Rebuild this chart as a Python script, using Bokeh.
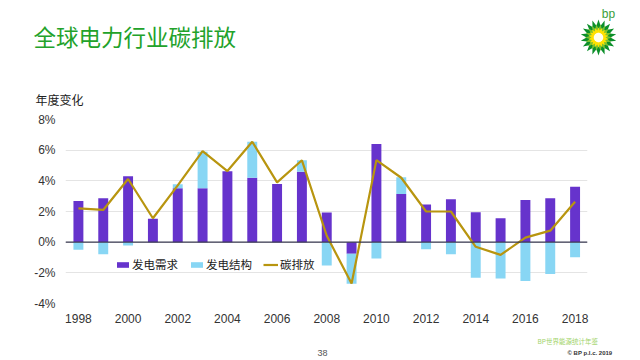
import math
from bokeh.plotting import figure
from bokeh.layouts import column, row
from bokeh.models import (Range1d, FixedTicker, PrintfTickFormatter, Span,
                          Legend, LegendItem, ColumnDataSource)
from bokeh.core.properties import value
from bokeh.embed import file_html
from bokeh.resources import INLINE

# ---- data (annual change, %) ----
years = list(range(1998, 2019))
demand = [2.69, 2.86, 4.30, 1.52, 3.51, 3.51, 4.62, 4.20, 3.80, 4.60, 1.93,
          -0.76, 6.41, 3.14, 2.45, 2.80, 1.95, 1.56, 2.75, 2.86, 3.62]
structure = [-0.50, -0.78, -0.22, 0.00, 0.26, 2.39, 0.00, 2.35, 0.00, 0.74, -1.52,
             -1.95, -1.07, 1.09, -0.46, -0.78, -2.32, -2.37, -2.54, -2.08, -0.98]
carbon = [2.20, 2.10, 4.12, 1.56, 3.70, 5.94, 4.64, 6.55, 3.90, 5.34, 0.42,
          -2.70, 5.35, 4.20, 2.00, 2.00, -0.30, -0.83, 0.30, 0.75, 2.64]
x_ticks = list(range(1998, 2019, 2))
y_ticks = [-4, -2, 0, 2, 4, 6, 8]
series_names = ["发电需求", "发电结构", "碳排放"]

PURPLE = "#6633cc"
LBLUE = "#88d6f4"
GOLD = "#b8950f"
GREEN = "#22a22a"
CJK = "Noto Sans CJK SC"

W = 640
TOP_H = 108
MAIN_H = 222
BOT_H = 30


def blank(h, y0):
    f = figure(width=W, height=h, output_backend="svg", toolbar_location=None,
               x_range=Range1d(0, W), y_range=Range1d(y0 + h, y0),
               x_axis_type=None, y_axis_type=None,
               min_border=0, min_border_left=0, min_border_right=0,
               min_border_top=0, min_border_bottom=0)
    f.grid.visible = False
    f.outline_line_color = None
    f.background_fill_color = "white"
    f.border_fill_color = "white"
    return f


def txt(f, s, x, y, size, color, align="left", font=CJK, style="normal"):
    f.text(x=[x], y=[y], text=[s], text_font=value(font), text_font_size=value(size),
           text_color=color, text_align=align, text_baseline="middle",
           text_font_style=style)


# ---------------- top: title, logo, unit label ----------------
top = blank(TOP_H, 0)
txt(top, "全球电力行业碳排放", 33, 35, "22.5px", GREEN)
txt(top, "年度变化", 35, 99, "12px", "#222222")
txt(top, "bp", 608, 13, "12px", "#3a9e3a", align="center", font="Liberation Sans")

cx, cy = 598, 37


def star(n, r_out, r_in, rot, color):
    xs, ys = [], []
    for k in range(2 * n):
        r = r_out if k % 2 == 0 else r_in
        a = rot + math.pi * k / n
        xs.append(cx + r * math.cos(a))
        ys.append(cy + r * math.sin(a))
    top.patch(xs, ys, fill_color=color, line_color=None)


star(18, 18, 12, math.pi / 2, "#0c8f2a")
star(18, 13.5, 9, math.pi / 2 + math.pi / 18, "#7cc22e")
star(18, 10, 7, math.pi / 2, "#ffe100")
star(24, 5, 4.5, 0, "#ffffee")

# ---------------- main chart ----------------
s_bottom = [d if (s * d) > 0 else 0.0 for d, s in zip(demand, structure)]
s_top = [b + s for b, s in zip(s_bottom, structure)]
src = ColumnDataSource(dict(year=years, demand=demand, zero=[0.0] * len(years),
                            sb=s_bottom, st=s_top, carbon=carbon))

p = figure(width=W, height=MAIN_H, output_backend="svg", toolbar_location=None,
           x_range=Range1d(1997.48, 2018.5), y_range=Range1d(-4, 8),
           min_border_left=65, min_border_right=53, min_border_top=11,
           min_border_bottom=27)
p.outline_line_color = None
p.background_fill_color = "white"
p.border_fill_color = "white"

r_d = p.vbar(x="year", bottom="zero", top="demand", width=0.4, source=src,
             fill_color=PURPLE, line_color=None)
r_s = p.vbar(x="year", bottom="sb", top="st", width=0.4, source=src,
             fill_color=LBLUE, line_color=None)
r_c = p.line(x="year", y="carbon", source=src, line_color=GOLD, line_width=2.2)

p.add_layout(Span(location=0, dimension="width", line_color="#3a3a52", line_width=1.2))

p.xaxis.ticker = FixedTicker(ticks=x_ticks)
p.yaxis.ticker = FixedTicker(ticks=y_ticks)
p.yaxis.formatter = PrintfTickFormatter(format="%d%%")
for ax in (p.xaxis[0], p.yaxis[0]):
    ax.axis_line_color = None
    ax.major_tick_line_color = None
    ax.minor_tick_line_color = None
    ax.major_tick_out = 0
    ax.major_tick_in = 0
    ax.minor_tick_out = 0
    ax.major_label_text_font = "Liberation Sans"
    ax.major_label_text_font_size = "12px"
    ax.major_label_text_color = "#333333"
p.yaxis.major_label_standoff = 10
p.xaxis.major_label_standoff = 10
p.xgrid.grid_line_color = None
p.ygrid.grid_line_color = "#e4e4e4"
p.ygrid.grid_line_width = 1

legend = Legend(items=[LegendItem(label=series_names[0], renderers=[r_d]),
                       LegendItem(label=series_names[1], renderers=[r_s]),
                       LegendItem(label=series_names[2], renderers=[r_c])],
                location=(50, 31), orientation="horizontal",
                glyph_width=15, glyph_height=7, label_standoff=2, spacing=11,
                padding=0, margin=0, border_line_color=None,
                background_fill_alpha=0, label_height=14,
                label_text_font=CJK, label_text_font_size="11.5px",
                label_text_color="#222222")
p.add_layout(legend)

# ---------------- footer ----------------
bot = blank(BOT_H, TOP_H + MAIN_H)
txt(bot, "38", 322, 352, "9px", "#555555", align="center", font="Liberation Sans")
txt(bot, "BP世界能源统计年鉴", 537, 340, "6.5px", "#9fd36a")
txt(bot, "© BP p.l.c. 2019", 567, 352, "6px", "#333333", font="Liberation Sans",
    style="bold")

layout = column(row(top), row(p), row(bot), spacing=0)
open("out.html", "w").write(file_html(layout, INLINE))
